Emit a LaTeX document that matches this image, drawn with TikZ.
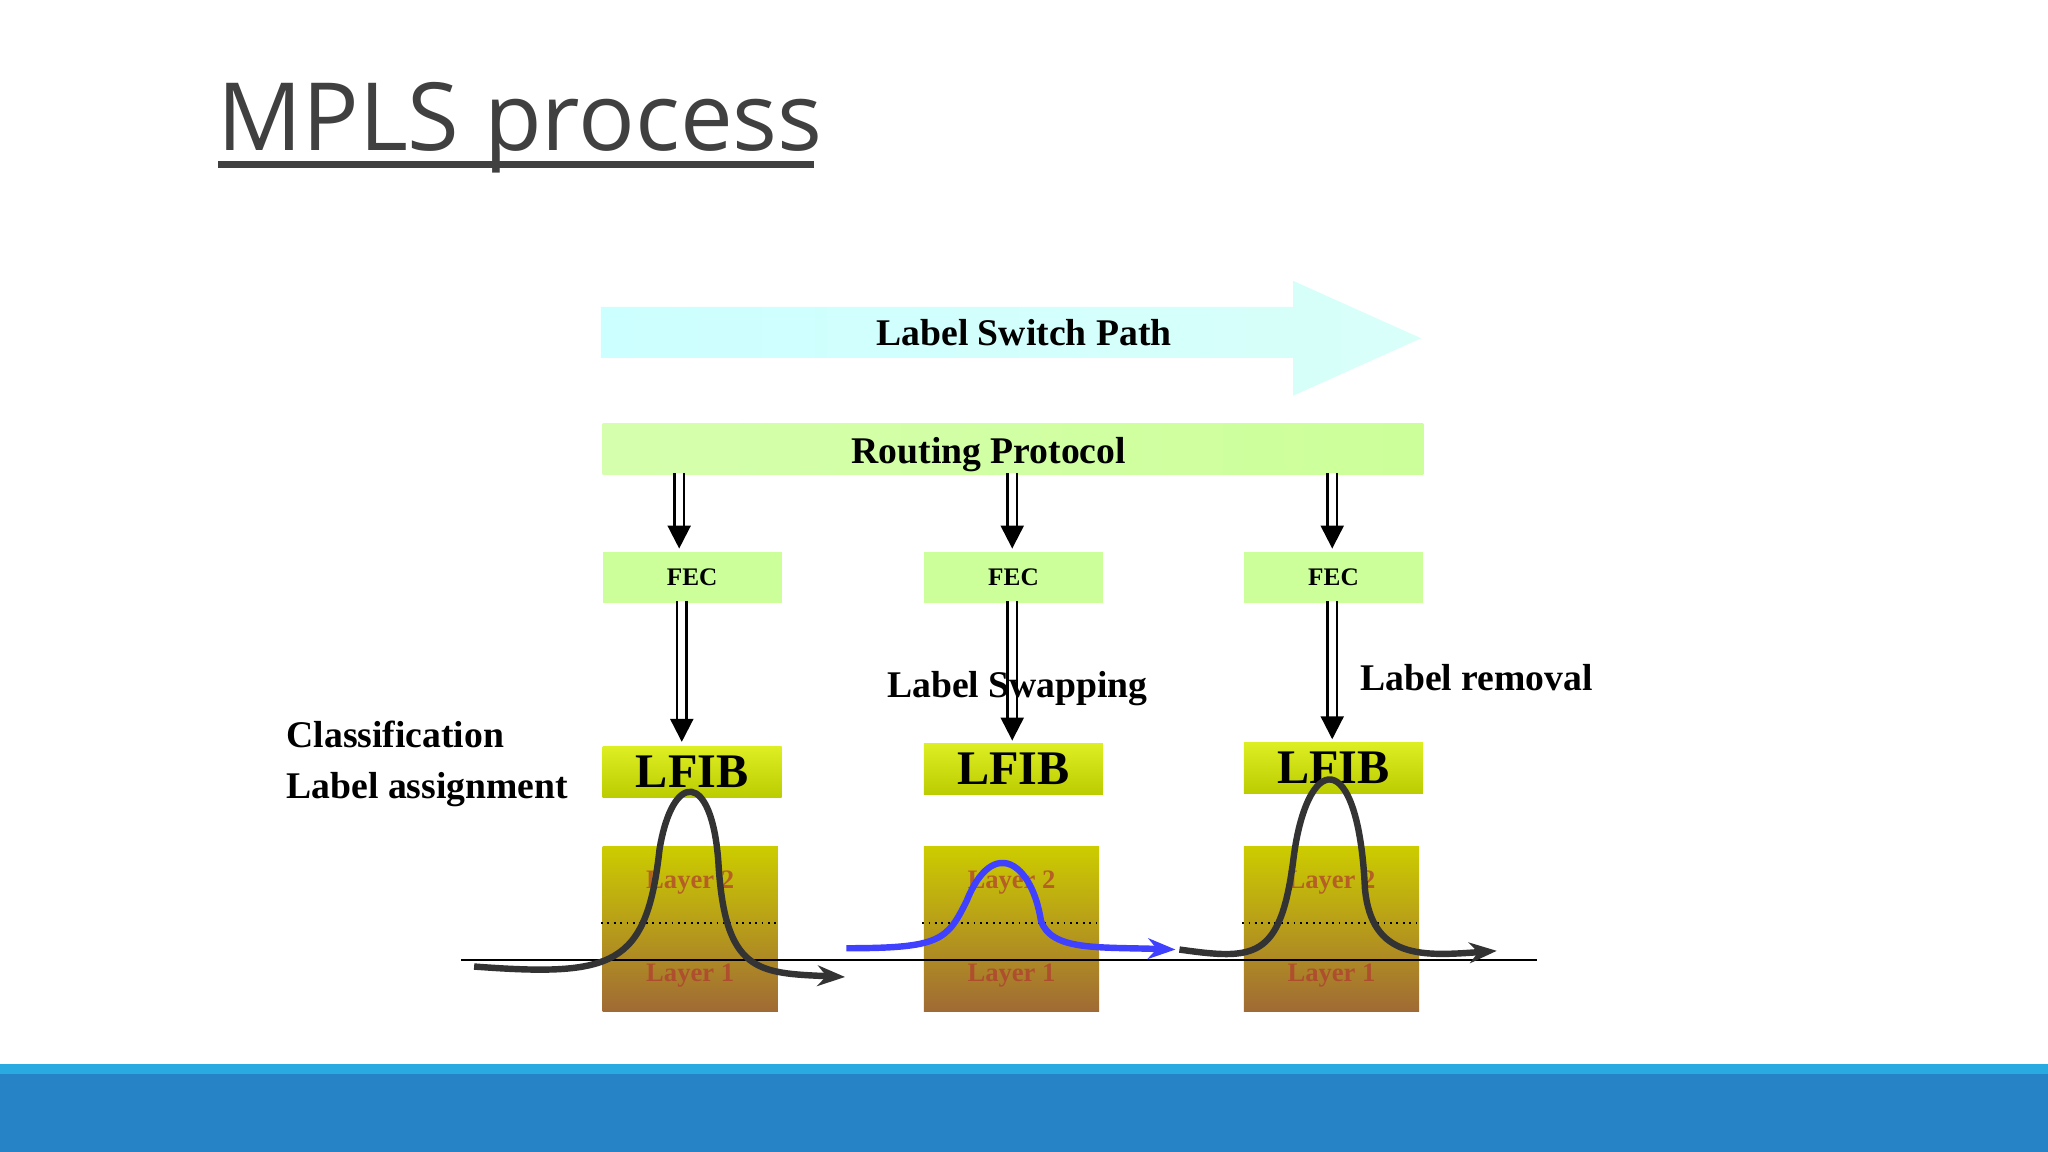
\documentclass[tikz,border=0pt]{standalone}
\usepackage{fontspec}
\setmainfont{Liberation Serif}
\newfontfamily\titlefont{Open Sans}
\usetikzlibrary{positioning,arrows.meta,shapes.arrows}
\definecolor{bluebar}{HTML}{2683C6}
\definecolor{lightbar}{HTML}{29ABE2}
\definecolor{layertxt}{HTML}{B03A30}
\definecolor{laytop}{HTML}{CCCC00}
\definecolor{laybot}{HTML}{A06A35}
\definecolor{rpgreen}{HTML}{CCFF99}
\definecolor{lfibtop}{HTML}{DDEE22}
\definecolor{lfibbot}{HTML}{BBCC00}
\begin{document}
\begin{tikzpicture}[x=0.01cm,y=-0.01cm, thick,
   dbl/.style={double, double distance=1.6pt, line width=0.5pt, -{Triangle[length=5pt,width=5pt]}, shorten >=0pt},
   bar/.style={inner sep=0pt, anchor=north west, minimum height=0.39cm},
   fec/.style={bar, minimum width=1.37cm, fill=rpgreen, font=\bfseries\fontsize{5.5}{6}\selectfont},
   lfib/.style={bar, minimum width=1.37cm, top color=lfibtop, bottom color=lfibbot, font=\bfseries\fontsize{10.5}{12}\selectfont},
   layer/.style={inner sep=0pt, anchor=north west, minimum width=1.34cm, minimum height=1.26cm, top color=laytop, bottom color=laybot},
   ltxt/.style={text=layertxt, opacity=0.7, font=\bfseries\fontsize{5.8}{7}\selectfont},
   lbl/.style={font=\bfseries\fontsize{8.2}{10}\selectfont},
   flow/.style={line width=1.4pt, -{Stealth[length=6pt]}}]
   \fill[white] (0,0) rectangle (1568,882);
   \fill[lightbar] (0,815) rectangle (1568,822);
   \fill[bluebar] (0,822) rectangle (1568,882);
   % title
   \node[anchor=base west, inner sep=0pt, text=black!75, font=\titlefont\fontsize{20.5}{24}\selectfont] (title) at (165,115) {MPLS process};
   \draw[black!75, line width=1.5pt] (167,126) -- (623,126);
   % label switch path
   \shade[left color=cyan!20, right color=green!15!cyan!15, shading angle=90]
     (460,235) -- (990,235) -- (990,215) -- (1088,259) -- (990,303) -- (990,274) -- (460,274) -- cycle;
   \node[lbl] (lsp) at (784,255) {Label Switch Path};
   \node[bar, minimum width=6.28cm, left color=rpgreen!80, right color=rpgreen] (rp) at (460,323) {};
   \node[lbl] (rptxt) at (757,348) {Routing Protocol};
   % FEC and LFIB
   \foreach \n/\x/\y/\ly in {1/460/570/647, 2/706/568/647, 3/951/567/647} {
     \node[fec] (fec\n) at (\x,421) {FEC};
     \node[lfib] (lfib\n) at (\x,\y) {LFIB};
     \node[layer] (lay\n) at (\x,\ly) {};
     \draw[densely dotted, thin] (lay\n.west) ++(0,-5) -- ++(134,0);
     \node[ltxt] (l2\n) at ([yshift=-0.29cm]lay\n.north) {Layer 2};
     \node[ltxt] (l1\n) at ([yshift=0.29cm]lay\n.south) {Layer 1};
   }
   \foreach \n/\x in {1/520, 2/775, 3/1020} {
     \draw[dbl] (\x,362) -- (\x,420);
   }
   \draw[dbl] (522,460) -- (522,568);
   \draw[dbl] (775,460) -- (775,567);
   \draw[dbl] (1020,460) -- (1020,566);
   % line and flows
   \draw[thin] (353,735) -- (1177,735);
   \draw[flow, black!80] (363,740) .. controls (470,748) and (495,740) .. (505,650)
      .. controls (515,590) and (545,590) .. (550,660)
      .. controls (555,745) and (580,745) .. (647,748);
   \draw[flow, blue!75] (648,726) .. controls (720,726) and (725,720) .. (740,690)
      .. controls (760,640) and (790,660) .. (797,705)
      .. controls (805,728) and (840,725) .. (900,727);
   \draw[flow, black!80] (903,727) .. controls (960,735) and (980,735) .. (990,660)
      .. controls (1000,575) and (1040,570) .. (1045,680)
      .. controls (1050,735) and (1090,732) .. (1146,728);
   % captions
   \node[lbl, anchor=west, align=left, inner sep=0pt] (cls) at (218,585) {Classification\\[1pt]Label assignment};
   \node[lbl] (swap) at (779,527) {Label Swapping};
   \node[lbl, anchor=west, inner sep=0pt] (rem) at (1040,519) {Label removal};
\end{tikzpicture}
\end{document}
